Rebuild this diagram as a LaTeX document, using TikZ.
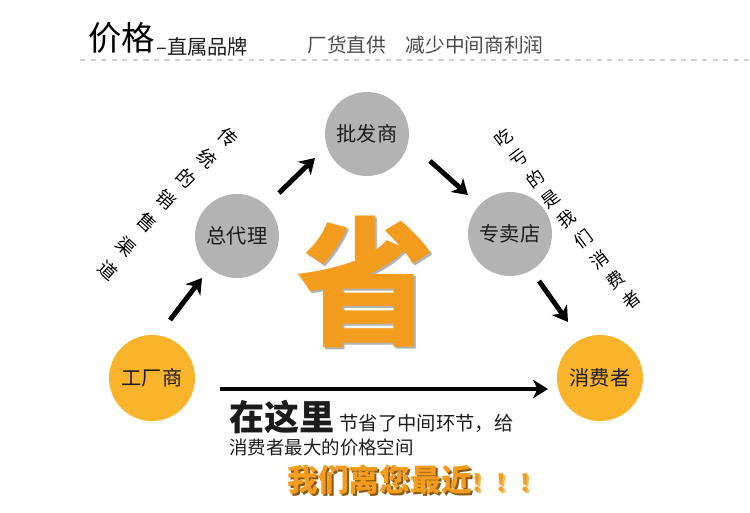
\documentclass[tikz,border=0pt]{standalone}
\usepackage{fontspec}
\setmainfont{Noto Sans CJK SC}
\usetikzlibrary{arrows.meta, positioning, calc}
\definecolor{cInk}{HTML}{1c1c1c}
\definecolor{cSub}{HTML}{4a4a4a}
\definecolor{cGray}{HTML}{b3b3b3}
\definecolor{cGold}{HTML}{f9b42b}
\definecolor{cOrange}{HTML}{f39c1d}
\definecolor{cShade}{HTML}{8a5a14}
\definecolor{cRule}{HTML}{d0d0d0}
\newcommand{\fsz}[1]{\fontsize{#1}{#1}\selectfont}
\tikzset{
  >={Stealth[length=8.5pt,width=10.5pt,inset=2.5pt]},
  flowarrow/.style={->, draw=black, line width=2.8pt},
  midstop/.style={circle, fill=cGray, minimum size=1.68cm, inner sep=0pt,
      font=\fsz{11.5}, text=cInk},
  endstop/.style={circle, fill=cGold, minimum size=1.72cm, inner sep=0pt,
      font=\fsz{11.5}, text=cInk},
  slant/.style={font=\fsz{10.5}, text=black, inner sep=0pt},
}

\begin{document}
\begin{tikzpicture}[x=0.02cm, y=-0.02cm]
\useasboundingbox (0,0) rectangle (750,513);

% ===================== title row =====================
\node[font=\fsz{19}, text=black, anchor=west, inner sep=0pt] (price) at (88,38) {价格};
\node[font=\fsz{11.5}, text=cInk, anchor=west, inner sep=0pt] (brand) at (156,46.5) {–直属品牌};
\node[font=\fsz{11.2}, text=cSub, anchor=west, inner sep=0pt] (slogan) at (307,45.5)
     {厂货直供\quad 减少中间商利润};
\draw[cRule, dashed, line width=0.6pt] (80,60) -- (750,60);

% ===================== channel circles =====================
\node[midstop] (agent) at (237,236) {总代理};
\node[midstop] (whole) at (367,134) {批发商};
\node[midstop] (shop)  at (510,234) {专卖店};
\node[endstop] (maker) at (152,378) {工厂商};
\node[endstop] (buyer) at (600,378) {消费者};

\draw[flowarrow] ($(maker)+(18,-58)$) -- ($(agent)+(-35,42)$);
\draw[flowarrow] ($(agent)+(42,-43)$) -- ($(whole)+(-52,24)$);
\draw[flowarrow] ($(whole)+(63,27)$) -- ($(shop)+(-42,-39)$);
\draw[flowarrow] ($(shop)+(29,47)$) -- ($(buyer)+(-32,-56)$);
\draw[flowarrow] ($(maker)+(68,11)$) -- ($(buyer)+(-52,11)$);

% ===================== slanted captions =====================
\foreach \ch/\px/\py [count=\i] in {传/228/137, 统/207/158, 的/186/178, 销/166/199,
    售/147/222, 渠/126/246, 道/108/270}
  \node[slant, rotate=-42] (lhs\i) at (\px,\py) {\ch};
\foreach \ch [count=\i from 0] in {吃,亏,的,是,我,们,消,费,者}
  \node[slant, font=\fsz{10}, rotate=37] (rhs\i) at (503+16*\i,138+20.25*\i) {\ch};

% ===================== big mark =====================
\node[font=\bfseries\fsz{79}, text=black!30, inner sep=0pt] (markshade) at (368,284) {省};
\node[font=\bfseries\fsz{79}, text=cOrange, inner sep=0pt] (mark) at (366,282) {省};

% ===================== bottom text =====================
\node[font=\bfseries\fsz{20}, text=cInk, anchor=west, inner sep=0pt] (here) at (229,417) {在这里};
\node[font=\fsz{11}, text=cInk, anchor=base west, inner sep=0pt] (saved)
     at ($(here.base east)+(4,0)$) {节省了中间环节，给};
\node[font=\fsz{10.5}, text=cInk, anchor=west, inner sep=0pt] (space) at (229,448)
     {消费者最大的价格空间};
\node[font=\bfseries\fsz{17.5}, text=cShade, anchor=west, inner sep=0pt] (nearshade) at (289,482)
     {我们离您最近{\fsz{13.5}\color{cOrange!70}！！！}};
\node[font=\bfseries\fsz{17.5}, text=cOrange, anchor=west, inner sep=0pt] (near) at (287,480)
     {我们离您最近{\fsz{13.5}！！！}};

\end{tikzpicture}
\end{document}
